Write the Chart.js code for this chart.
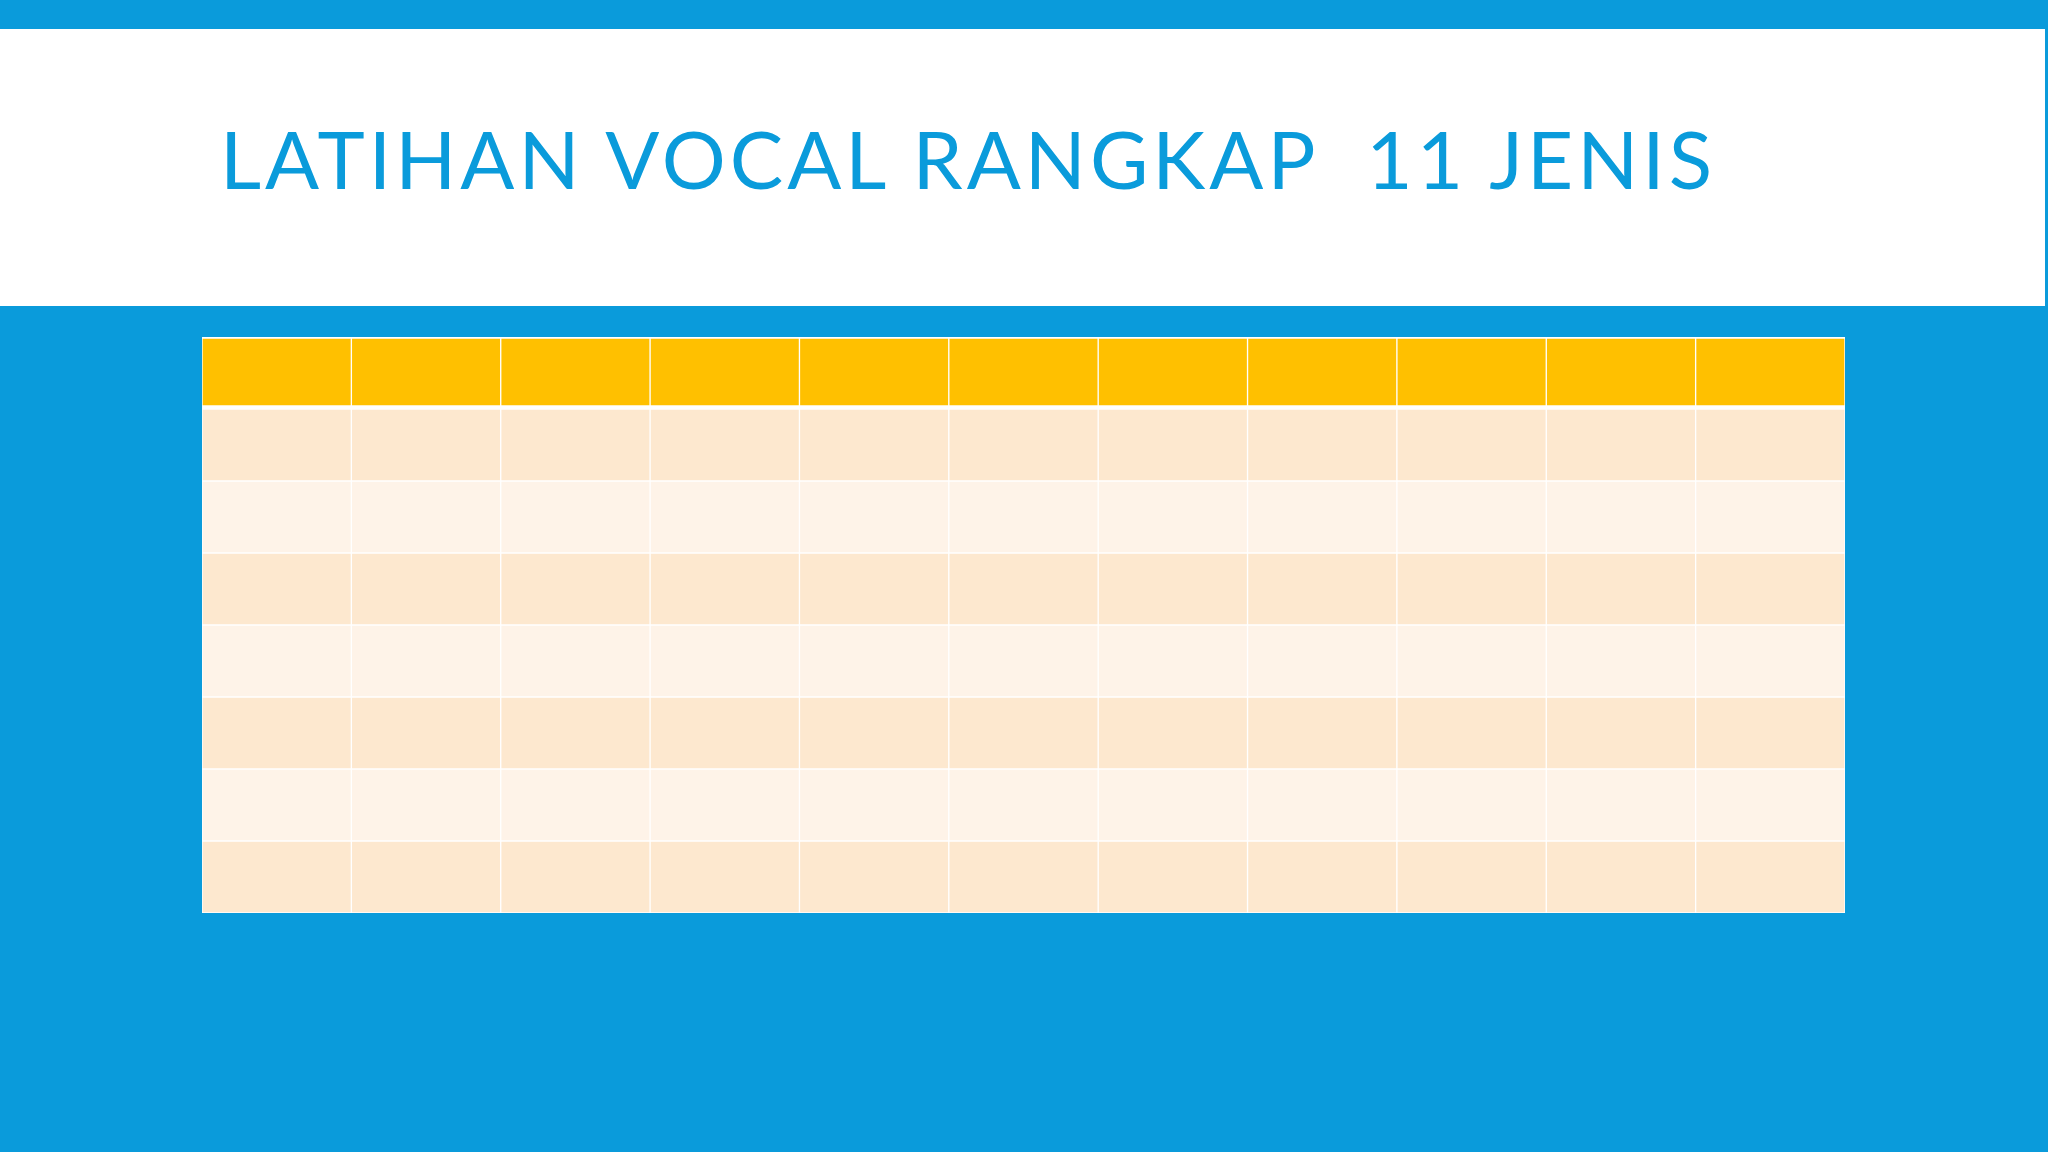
<!DOCTYPE html>
<html>
<head>
<meta charset="utf-8">
<script src="https://cdn.jsdelivr.net/npm/chart.js@4"></script>
<style>
  html, body { margin: 0; padding: 0; }
  body { width: 2048px; height: 1152px; background: #0a9bdb; position: relative; overflow: hidden; }
  .band { position: absolute; left: 0; top: 29px; width: 2045px; height: 277px; background: #fff; }
  .title { position: absolute; left: 220px; top: 118px; font-family: Lato, "Open Sans", sans-serif;
           font-size: 80px; color: #0a9bdb; letter-spacing: 4px; white-space: pre; line-height: 1; }
  #wrap { position: absolute; left: 202px; top: 337px; width: 1643px; height: 576px; background: #fff; }
</style>
</head>
<body>
<div class="band"></div>
<div class="title">LATIHAN VOCAL RANGKAP  11 JENIS</div>
<div id="wrap"><canvas id="grid" width="1643" height="576"></canvas></div>
<script>
// 11 empty columns, header row + 7 body rows
const columns = ['', '', '', '', '', '', '', '', '', '', ''];
const rowNames = ['header', 'r1', 'r2', 'r3', 'r4', 'r5', 'r6', 'r7'];
const cellValue = [1, 1, 1, 1, 1, 1, 1, 1, 1, 1, 1];
const rowColors = ['#ffc000', '#fde8cf', '#fef3e8', '#fde8cf', '#fef3e8', '#fde8cf', '#fef3e8', '#fde8cf'];

document.addEventListener('DOMContentLoaded', () => {
    const ctx = document.getElementById('grid').getContext('2d');
    new Chart(ctx, {
        type: 'bar',
        data: {
            labels: columns,
            datasets: rowNames.map((name, i) => ({
                label: name,
                data: cellValue,
                backgroundColor: rowColors[i],
                borderColor: '#ffffff',
                borderWidth: i === 0 ? { top: 2, left: 1, right: 1, bottom: 4 } : 1,
                borderSkipped: false,
                categoryPercentage: 1,
                barPercentage: 1
            }))
        },
        options: {
            responsive: false,
            devicePixelRatio: 1,
            animation: false,
            layout: { padding: 0 },
            plugins: { legend: { display: false }, tooltip: { enabled: false } },
            scales: {
                x: { stacked: true, display: false },
                y: { stacked: true, display: false, reverse: true, min: 0, max: rowNames.length }
            }
        }
    });
});
</script>
</body>
</html>
